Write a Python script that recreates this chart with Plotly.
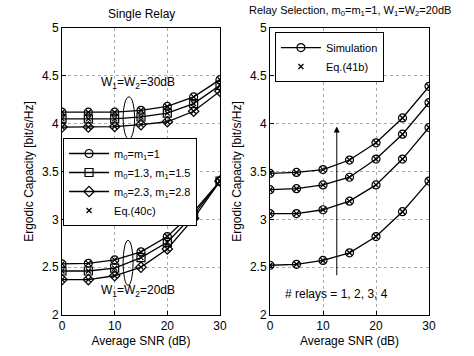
import plotly.graph_objects as go

snr = [0, 5, 10, 15, 20, 25, 30]

# Single relay, W1=W2=30dB
s30_m1 = [4.12, 4.12, 4.12, 4.14, 4.18, 4.28, 4.46]
s30_m13 = [4.05, 4.05, 4.05, 4.07, 4.11, 4.21, 4.40]
s30_m23 = [3.965, 3.965, 3.97, 3.99, 4.02, 4.13, 4.34]
# Single relay, W1=W2=20dB
s20_m1 = [2.534, 2.54, 2.576, 2.66, 2.82, 3.08, 3.40]
s20_m13 = [2.46, 2.46, 2.49, 2.60, 2.76, 3.05, 3.40]
s20_m23 = [2.37, 2.37, 2.41, 2.50, 2.69, 3.01, 3.40]

# Relay selection, 1..4 relays
rs_1 = [2.52, 2.53, 2.57, 2.65, 2.82, 3.08, 3.40]
rs_2 = [3.06, 3.06, 3.10, 3.19, 3.36, 3.63, 3.96]
rs_3 = [3.31, 3.32, 3.36, 3.44, 3.63, 3.89, 4.22]
rs_4 = [3.48, 3.49, 3.52, 3.62, 3.80, 4.06, 4.39]

xticks = [0, 10, 20, 30]
yticks = [2, 2.5, 3, 3.5, 4, 4.5, 5]

FONT = "Liberation Sans, Arial, sans-serif"
fig = go.Figure()

left_series = [
    (s30_m1, s20_m1, "circle-open", "m<sub>0</sub>=m<sub>1</sub>=1"),
    (s30_m13, s20_m13, "square-open", "m<sub>0</sub>=1.3, m<sub>1</sub>=1.5"),
    (s30_m23, s20_m23, "diamond-open", "m<sub>0</sub>=2.3, m<sub>1</sub>=2.8"),
]
for a, b, sym, name in left_series:
    for i, ys in enumerate([a, b]):
        fig.add_trace(go.Scatter(
            x=snr, y=ys, mode="lines+markers", name=name,
            line=dict(color="black", width=1.3),
            marker=dict(symbol=sym, size=8, color="black", line=dict(width=1.2, color="black")),
            showlegend=(i == 0), legend="legend", xaxis="x", yaxis="y"))
for i, ys in enumerate([s30_m1, s30_m13, s30_m23, s20_m1, s20_m13, s20_m23]):
    fig.add_trace(go.Scatter(
        x=snr, y=ys, mode="markers", name="Eq.(40c)",
        marker=dict(symbol="x-thin-open", size=5, color="black", line=dict(width=1.3, color="black")),
        showlegend=(i == 0), legend="legend", xaxis="x", yaxis="y"))

for i, ys in enumerate([rs_1, rs_2, rs_3, rs_4]):
    fig.add_trace(go.Scatter(
        x=snr, y=ys, mode="lines+markers", name="Simulation",
        line=dict(color="black", width=1.3),
        marker=dict(symbol="circle-open", size=8, color="black", line=dict(width=1.2, color="black")),
        showlegend=(i == 0), legend="legend2", xaxis="x2", yaxis="y2"))
for i, ys in enumerate([rs_1, rs_2, rs_3, rs_4]):
    fig.add_trace(go.Scatter(
        x=snr, y=ys, mode="markers", name="Eq.(41b)",
        marker=dict(symbol="x-thin-open", size=5, color="black", line=dict(width=1.3, color="black")),
        showlegend=(i == 0), legend="legend2", xaxis="x2", yaxis="y2"))

ax_common = dict(showline=True, mirror=True, linecolor="black", linewidth=1,
                 ticks="inside", ticklen=4, tickcolor="black", automargin=False,
                 showgrid=True, gridcolor="#aaaaaa", griddash="dot", gridwidth=1,
                 zeroline=False, tickfont=dict(size=12, color="black", family=FONT))
xa = dict(ax_common, range=[0, 30], tickvals=xticks,
          title=dict(text="Average SNR (dB)", font=dict(size=12, color="black", family=FONT), standoff=4))
ya = dict(ax_common, range=[2, 5], tickvals=yticks, ticktext=[str(v) for v in yticks],
          title=dict(text="Ergodic Capacity [bit/s/Hz]", font=dict(size=12, color="black", family=FONT), standoff=5))

fig.update_layout(
    width=474, height=356, margin=dict(l=0, r=0, t=0, b=0, autoexpand=False),
    paper_bgcolor="white", plot_bgcolor="white",
    font=dict(family=FONT, color="black"),
    xaxis=dict(xa, domain=[0.1308, 0.4641], anchor="y"),
    yaxis=dict(ya, domain=[0.1152, 0.9213], anchor="x"),
    xaxis2=dict(xa, domain=[0.5696, 0.9051], anchor="y2"),
    yaxis2=dict(ya, domain=[0.1152, 0.9213], anchor="x2"),
    legend=dict(x=0.133, y=0.6124, xanchor="left", yanchor="top",
                bgcolor="white", bordercolor="black", borderwidth=1,
                font=dict(size=11, color="black", family=FONT), tracegroupgap=0,
                itemwidth=40),
    legend2=dict(x=0.580, y=0.910, xanchor="left", yanchor="top",
                 bgcolor="white", bordercolor="black", borderwidth=1,
                 font=dict(size=11, color="black", family=FONT), tracegroupgap=0,
                 itemwidth=40),
    shapes=[
        dict(type="circle", xref="x", yref="y", x0=11.6, x1=13.8, y0=3.84, y1=4.28,
             line=dict(color="black", width=1)),
        dict(type="circle", xref="x", yref="y", x0=11.6, x1=13.5, y0=2.31, y1=2.78,
             line=dict(color="black", width=1)),
    ],
    annotations=[
        dict(text="Single Relay", xref="paper", yref="paper", x=0.298, y=0.962,
             xanchor="center", yanchor="middle",
             showarrow=False, font=dict(size=12, family=FONT)),
        dict(text="Relay Selection, m<sub>0</sub>=m<sub>1</sub>=1, W<sub>1</sub>=W<sub>2</sub>=20dB",
             xref="paper", yref="paper", x=0.738, y=0.968, xanchor="center", yanchor="middle",
             showarrow=False, font=dict(size=11, family=FONT)),
        dict(text="W<sub>1</sub>=W<sub>2</sub>=30dB", xref="x", yref="y", x=14.5, y=4.42,
             showarrow=False, font=dict(size=12, family=FONT)),
        dict(text="W<sub>1</sub>=W<sub>2</sub>=20dB", xref="x", yref="y", x=14.5, y=2.25,
             showarrow=False, font=dict(size=12, family=FONT)),
        dict(text="# relays = 1, 2, 3, 4", xref="x2", yref="y2", x=12.6, y=2.22,
             showarrow=False, font=dict(size=12, family=FONT)),
        dict(x=12.6, y=3.97, ax=12.6, ay=2.40, xref="x2", yref="y2", axref="x2", ayref="y2",
             showarrow=True, arrowhead=2, arrowsize=1.2, arrowwidth=1, arrowcolor="black", text=""),
    ],
)

fig.write_html("out.html", config={"displayModeBar": False},
               post_script="document.body.style.margin='0';")
